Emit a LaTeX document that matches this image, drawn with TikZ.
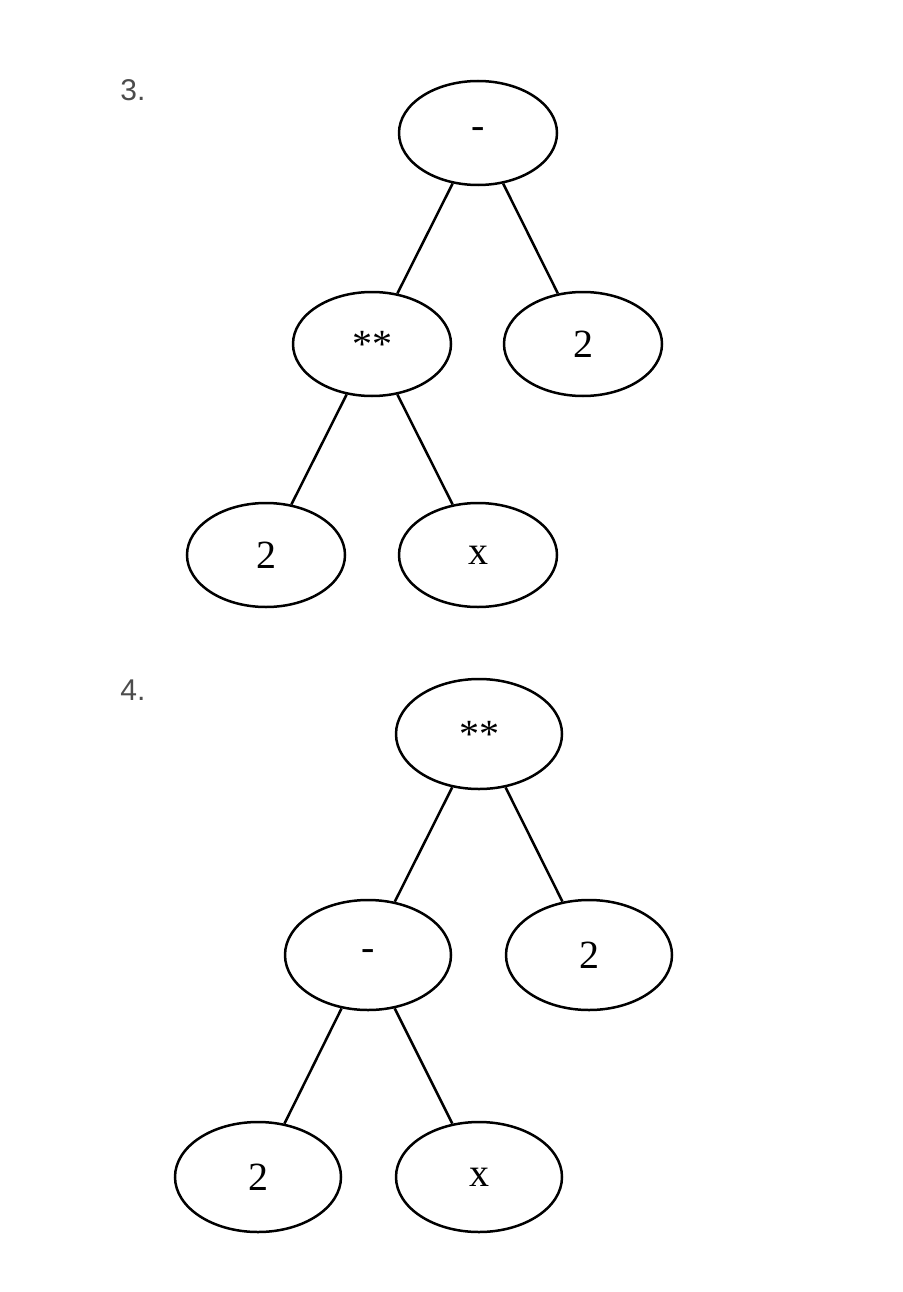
\documentclass[tikz,border=0pt]{standalone}
\usepackage{fontspec}
\setmainfont{Liberation Serif}
\newfontfamily\labfont{Liberation Sans}
\usetikzlibrary{shapes.geometric}
\begin{document}
\begin{tikzpicture}[x=1pt,y=-1pt,
  tn/.style={ellipse,draw,line width=2.5pt,minimum width=158pt,minimum height=104pt,inner sep=0pt,font=\fontsize{40}{40}\selectfont},
  tm/.style={tn,minimum width=166pt,minimum height=110pt},
  lab/.style={font=\labfont\fontsize{30}{30}\selectfont,text=black!70}]
\useasboundingbox (0,0) rectangle (902,1292);
\node[lab] (l3) at (133,90) {3.};
\node[tn] (a) at (478,133) {-};
\node[tn] (b) at (372,344) {**};
\node[tn] (c) at (583,344) {2};
\node[tn] (d) at (266,555) {2};
\node[tn] (e) at (478,555) {x};
\draw[line width=2.5pt] (a)--(b) (a)--(c) (b)--(d) (b)--(e);
\node[lab] (l4) at (133,690) {4.};
\node[tm] (f) at (479,734) {**};
\node[tm] (g) at (368,955) {-};
\node[tm] (h) at (589,955) {2};
\node[tm] (i) at (258,1177) {2};
\node[tm] (j) at (479,1177) {x};
\draw[line width=2.5pt] (f)--(g) (f)--(h) (g)--(i) (g)--(j);
\end{tikzpicture}
\end{document}
